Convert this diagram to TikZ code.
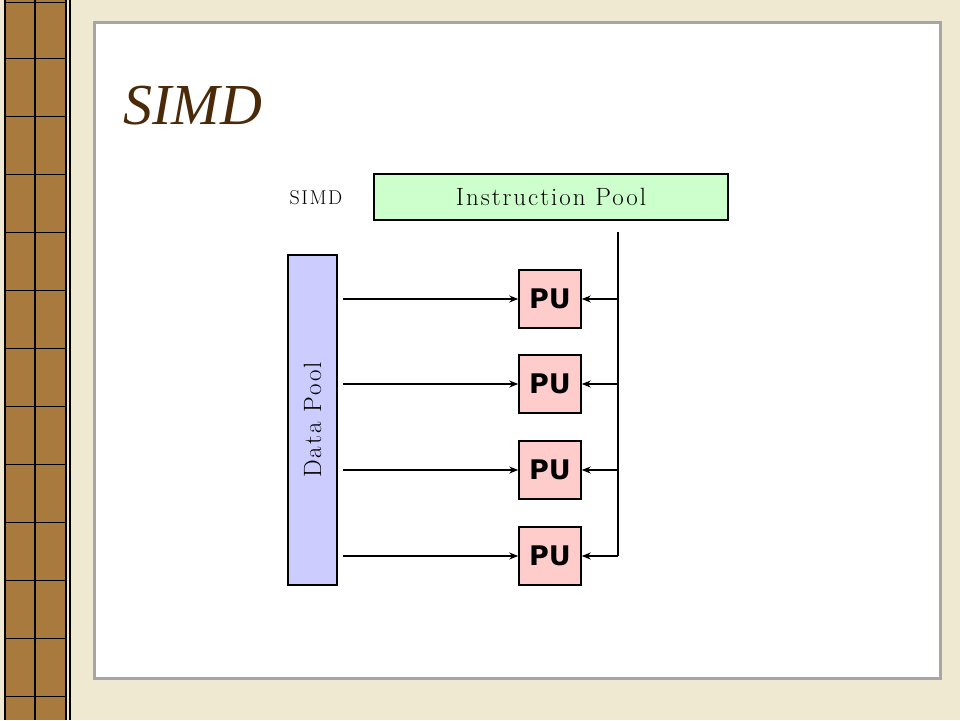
\documentclass[tikz,border=0pt]{standalone}
\usepackage{fontspec}
\newfontfamily\titlefont{Liberation Serif}
\newfontfamily\pufont{DejaVu Sans}
\newfontfamily\diafont[LetterSpace=8]{Latin Modern Roman}
\usetikzlibrary{arrows.meta}
\definecolor{parch}{HTML}{EFE9D2}
\definecolor{wood}{HTML}{A97A3E}
\definecolor{titlec}{HTML}{4A2A08}
\tikzset{
  pu/.style={draw=black, line width=1.5pt, fill=red!20, minimum width=62pt, minimum height=58pt, font=\pufont\bfseries\fontsize{27}{27}\selectfont},
  arr/.style={-{Stealth[length=9pt,width=7pt]}, line width=1.5pt},
}
\begin{document}
\begin{tikzpicture}[x=1pt,y=-1pt]
\useasboundingbox (0,0) rectangle (960,720);
\fill[parch] (0,0) rectangle (960,720);
% left strip
\fill[wood] (5,0) rectangle (66,720);
\draw[line width=1.2pt] (5,0) -- (5,720) (66,0) -- (66,720) (35,0) -- (35,720);
\foreach \y in {2,58,116,174,232,290,348,406,464,522,580,638,696}
  \draw[line width=1pt] (5,\y) -- (66,\y);
\draw[line width=2pt] (70,0) -- (70,720);
% panel
\draw[gray!70, line width=3pt, fill=white] (94,22) rectangle (940,678);
\node[anchor=base west, text=titlec, font=\titlefont\itshape\fontsize{58}{58}\selectfont] (title) at (120,124) {SIMD};
% diagram
\node[font=\diafont\fontsize{20}{20}\selectfont] (lbl) at (316,198) {SIMD};
\node[draw=black, line width=1.5pt, fill=green!20, minimum width=354pt, minimum height=46pt, font=\diafont\fontsize{25}{25}\selectfont] (ip) at (551,197) {Instruction Pool};
\node[draw=black, line width=1.5pt, fill=blue!20, minimum width=49pt, minimum height=330pt] (dp) at (312.5,420) {};
\node[rotate=90, font=\diafont\fontsize{25}{25}\selectfont] (dpt) at (312.5,420) {Data Pool};
\coordinate (top) at (618,232);
\coordinate (bot) at (618,556);
\draw[line width=1.5pt] (top) -- (bot);
\foreach \i/\y in {1/299,2/384,3/470,4/556}{
  \node[pu] (pu\i) at (550,\y) {PU};
  \coordinate (s\i) at (343,\y);
  \coordinate (v\i) at (618,\y);
  \draw[arr] (s\i) -- (pu\i.west);
  \draw[arr] (v\i) -- (pu\i.east);
}
\end{tikzpicture}
\end{document}
